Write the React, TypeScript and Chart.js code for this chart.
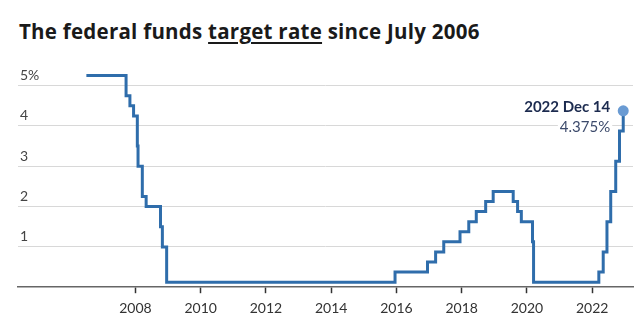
import React, { useEffect, useRef } from "react";
import { Chart, registerables } from "chart.js";

Chart.register(...registerables);

// Dates when the (midpoint) federal funds target rate changed, starting July 2006
const changeDates: string[] = [
  "2006-07-01", "2007-09-18", "2007-10-31", "2007-12-11", "2008-01-22",
  "2008-01-30", "2008-03-18", "2008-04-30", "2008-10-08", "2008-10-29",
  "2008-12-16", "2015-12-16", "2016-12-14", "2017-03-15", "2017-06-14",
  "2017-12-13", "2018-03-21", "2018-06-13", "2018-09-26", "2018-12-19",
  "2019-07-31", "2019-09-18", "2019-10-30", "2020-03-03", "2020-03-15",
  "2022-03-16", "2022-05-04", "2022-06-15", "2022-07-27", "2022-09-21",
  "2022-11-02", "2022-12-14",
];
const rates: number[] = [
  5.25, 4.75, 4.5, 4.25, 3.5,
  3.0, 2.25, 2.0, 1.5, 1.0,
  0.125, 0.375, 0.625, 0.875, 1.125,
  1.375, 1.625, 1.875, 2.125, 2.375,
  2.125, 1.875, 1.625, 1.125, 0.125,
  0.375, 0.875, 1.625, 2.375, 3.125,
  3.875, 4.375,
];
const xTickYears: number[] = [2008, 2010, 2012, 2014, 2016, 2018, 2020, 2022];
const yTickValues: number[] = [1, 2, 3, 4, 5];
const lastLabel = "2022 Dec 14";
const lastValueLabel = "4.375%";

function toDecimalYear(s: string): number {
  const [y, m, d] = s.split("-").map(Number);
  const start = Date.UTC(y, 0, 1);
  const end = Date.UTC(y + 1, 0, 1);
  return y + (Date.UTC(y, m - 1, d) - start) / (end - start);
}

const FONT = "Lato, 'Open Sans', Arial, sans-serif";
const TITLE_FONT = "'Open Sans', Lato, Arial, sans-serif";

const annotationPlugin = {
  id: "lastAnnotation",
  afterDatasetsDraw(chart: any) {
    const meta = chart.getDatasetMeta(0);
    const pt = meta.data[meta.data.length - 1];
    if (!pt) return;
    const ctx = chart.ctx;
    ctx.save();
    const xr = pt.x - 13;
    ctx.textAlign = "right";
    ctx.textBaseline = "middle";
    ctx.font = `bold 15px ${FONT}`;
    let w = ctx.measureText(lastLabel).width;
    ctx.fillStyle = "#ffffff";
    ctx.fillRect(xr - w - 2, pt.y - 13, w + 4, 18);
    ctx.fillStyle = "#1c2b4f";
    ctx.fillText(lastLabel, xr, pt.y - 4);
    ctx.font = `15px ${FONT}`;
    w = ctx.measureText(lastValueLabel).width;
    ctx.fillStyle = "#ffffff";
    ctx.fillRect(xr - w - 2, pt.y + 7, w + 4, 18);
    ctx.fillStyle = "#3c4a6b";
    ctx.fillText(lastValueLabel, xr, pt.y + 16);
    ctx.restore();
  },
};

export default function App() {
  const canvasRef = useRef<HTMLCanvasElement | null>(null);

  useEffect(() => {
    if (!canvasRef.current) return;
    const points = changeDates.map((d, i) => ({ x: toDecimalYear(d), y: rates[i] }));
    const n = points.length;
    const chart = new Chart(canvasRef.current, {
      type: "line",
      data: {
        datasets: [
          {
            data: points,
            stepped: true,
            borderColor: "#2f6dab",
            borderWidth: 3,
            pointRadius: (c: any) => (c.dataIndex === n - 1 ? 5.5 : 0),
            pointBackgroundColor: "#6a9bd3",
            pointBorderColor: "#6a9bd3",
            pointBorderWidth: 0,
            fill: false,
          },
        ],
      },
      options: {
        animation: false,
        responsive: false,
        events: [],
        layout: { padding: { left: 14, right: 7, top: 65.5, bottom: 2 } },
        plugins: { legend: { display: false }, tooltip: { enabled: false }, title: { display: false } },
        scales: {
          x: {
            type: "linear",
            min: 2004.4,
            max: 2023.25,
            afterBuildTicks: (axis: any) => {
              axis.ticks = xTickYears.map((v) => ({ value: v }));
            },
            grid: {
              drawOnChartArea: false,
              drawTicks: true,
              tickLength: 6,
              tickColor: "#333333",
              tickWidth: 1.5,
            },
            border: { display: true, color: "#666666", width: 1.5 },
            ticks: {
              color: "#333333",
              font: { family: FONT, size: 14 },
              padding: 7,
              maxRotation: 0,
              autoSkip: false,
              callback: (v: any) => String(v),
            },
          },
          y: {
            type: "linear",
            min: 0,
            max: 5.5,
            afterBuildTicks: (axis: any) => {
              axis.ticks = yTickValues.map((v) => ({ value: v }));
            },
            grid: { color: "#d8d8d8", lineWidth: 1, drawTicks: false },
            border: { display: false },
            ticks: {
              mirror: true,
              padding: 2,
              labelOffset: -10,
              color: "#444444",
              font: { family: FONT, size: 14 },
              callback: (v: any) => (v === 5 ? "5%" : String(v)),
            },
          },
        },
      },
      plugins: [annotationPlugin],
    } as any);
    return () => chart.destroy();
  }, []);

  return (
    <div style={{ position: "absolute", left: 0, top: 0, width: 640, height: 326, background: "#fff" }}>
      <div
        style={{
          position: "absolute",
          left: 19,
          top: 18,
          fontFamily: TITLE_FONT,
          fontWeight: 700,
          fontSize: 20.5,
          lineHeight: "26px",
          color: "#1a1a1a",
          whiteSpace: "nowrap",
          letterSpacing: "0.25px",
        }}
      >
        The federal funds{" "}
        <span style={{ textDecoration: "underline", textDecorationThickness: "2px", textUnderlineOffset: "3px" }}>
          target rate
        </span>{" "}
        since July 2006
      </div>
      <canvas ref={canvasRef} width={640} height={326} style={{ position: "absolute", left: 0, top: 0 }} />
    </div>
  );
}
